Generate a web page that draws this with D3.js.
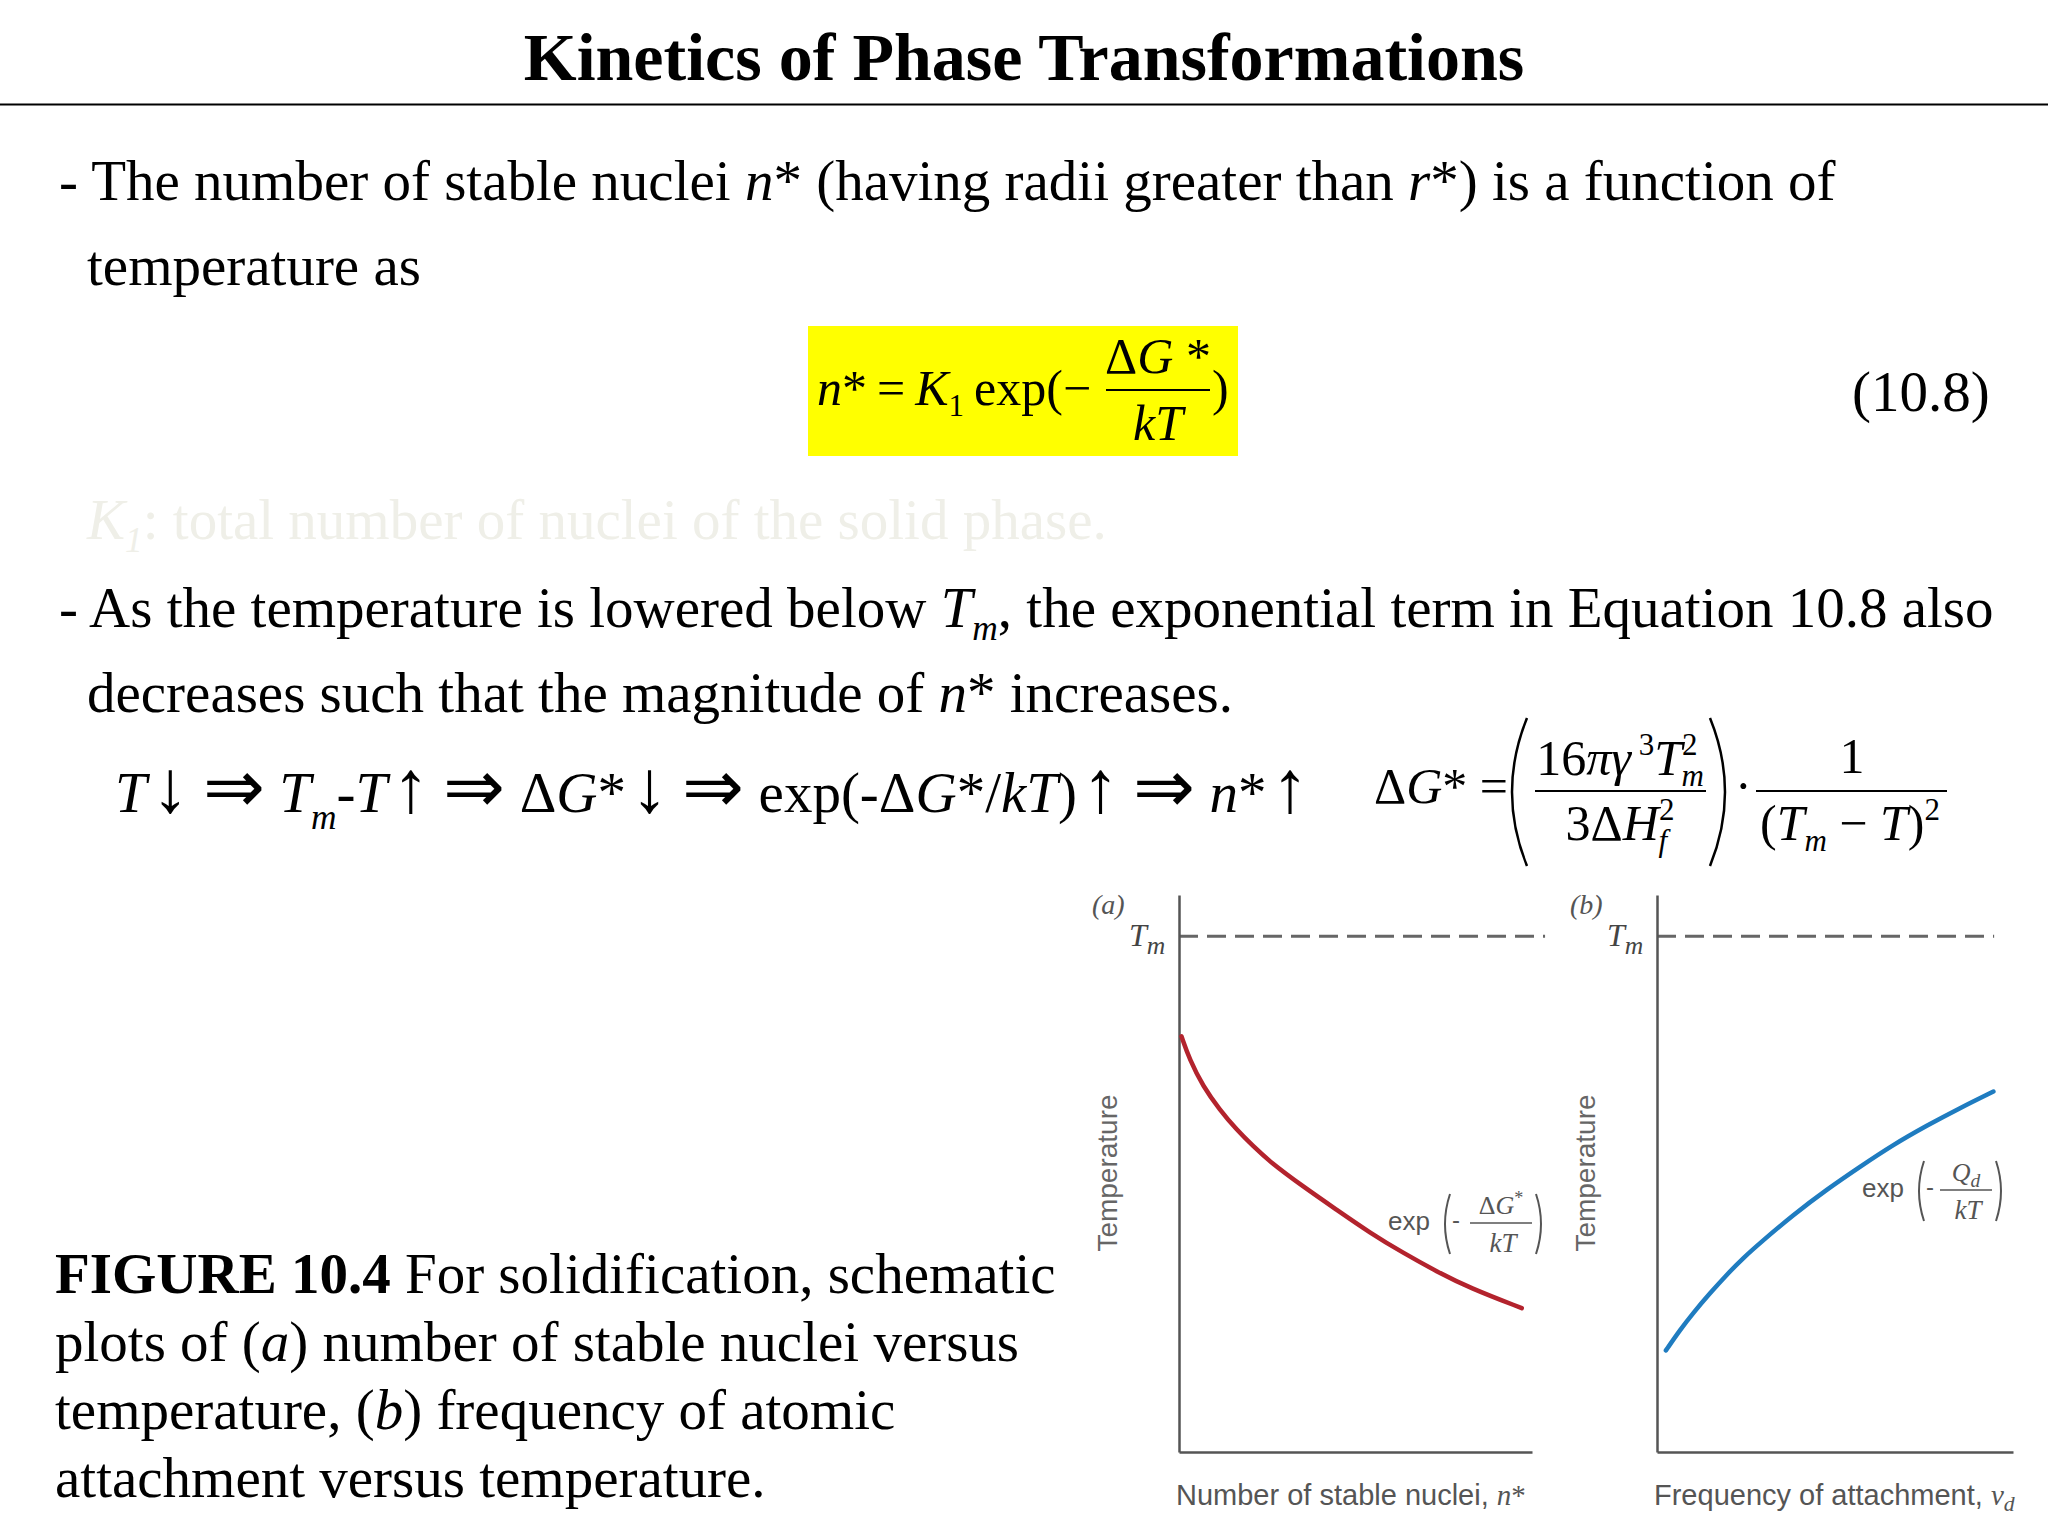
<!DOCTYPE html>
<html>
<head>
<meta charset="utf-8">
<script src="https://cdn.jsdelivr.net/npm/d3@7"></script>
<style>
  body { margin: 0; background: #fff; }
  svg { display: block; }
  text { white-space: pre; }
  .serif { font-family: "Liberation Serif", "Times New Roman", serif; }
  .sans { font-family: "Liberation Sans", Arial, sans-serif; }
</style>
</head>
<body>
<script>
(function(){

    // curve (a): number of stable nuclei n* (0..1) against temperature (Tm = 1)
    var nucleiN = [0.007, 0.030, 0.068, 0.115, 0.163, 0.210, 0.257, 0.351, 0.446, 0.541, 0.635, 0.730, 0.824, 0.971];
    var nucleiT = [0.806, 0.761, 0.709, 0.664, 0.625, 0.593, 0.563, 0.515, 0.470, 0.425, 0.386, 0.350, 0.318, 0.279];

    // curve (b): frequency of attachment against temperature
    var freqV = [0.025, 0.065, 0.102, 0.149, 0.196, 0.242, 0.289, 0.383, 0.477, 0.570, 0.664, 0.758, 0.851, 0.945];
    var freqT = [0.197, 0.237, 0.270, 0.308, 0.344, 0.376, 0.405, 0.460, 0.509, 0.553, 0.596, 0.633, 0.667, 0.699];

    // melting temperature and top of the temperature axis
    var meltT = 1;
    var tempMax = 1.08;

    var width = 2048, height = 1536;

    var svg = d3.select("body")
        .append("svg")
        .attr("width", width)
        .attr("height", height);

    //helper: text made of pieces (italic, bold, sub, sup)
    function rich(parent, x, y, size, parts, cls){
        var t = parent.append("text")
            .attr("class", cls || "serif")
            .attr("x", x)
            .attr("y", y)
            .attr("font-size", size);
        var shift = 0;
        parts.forEach(function(p){
            var s = (typeof p === "string") ? {t: p} : p;
            var scale = s.scale || 0.62;
            var fs = (s.sub || s.sup) ? size * scale : size * (s.big || 1);
            var want = s.sub ? size * (s.low || 0.22) : (s.sup ? -size * 0.4 : 0);
            var ts = t.append("tspan").text(s.t).attr("dy", want - shift);
            shift = want;
            if (fs !== size) ts.attr("font-size", fs);
            if (s.dx) ts.attr("dx", s.dx);
            if (s.i) ts.attr("font-style", "italic");
            if (s.b) ts.attr("font-weight", "bold");
            if (s.f) ts.attr("class", s.f);
        });
        return t;
    }

    // tall bracket drawn as a curve
    function paren(parent, x, y0, y1, bulge, color, sw){
        parent.append("path")
            .attr("d", "M" + x + "," + y0 + "Q" + (x + bulge) + "," + ((y0 + y1) / 2) + " " + x + "," + y1)
            .attr("fill", "none")
            .attr("stroke", color)
            .attr("stroke-width", sw);
    }

    //title and rule
    svg.append("text")
        .attr("class", "serif")
        .attr("x", width / 2)
        .attr("y", 80)
        .attr("text-anchor", "middle")
        .attr("font-size", 68)
        .attr("font-weight", "bold")
        .text("Kinetics of Phase Transformations");

    svg.append("line")
        .attr("x1", 0).attr("x2", width)
        .attr("y1", 104.5).attr("y2", 104.5)
        .attr("stroke", "#000")
        .attr("stroke-width", 2);

    var body = 57;

    rich(svg, 59, 200, body, ["- The number of stable nuclei ", {t: "n", i: 1}, "* (having radii greater than ", {t: "r", i: 1}, "*) is a function of"]);
    rich(svg, 87, 285, body, ["temperature as"]);

    //highlighted equation 10.8
    svg.append("rect")
        .attr("x", 808).attr("y", 326)
        .attr("width", 430).attr("height", 130)
        .attr("fill", "#ffff00");

    rich(svg, 817, 405, 50, [{t: "n", i: 1}, "*\u2009=\u2009", {t: "K", i: 1}, {t: "1", sub: 1}, "\u2009exp(\u2212"]);
    rich(svg, 1158, 373, 50, ["\u0394", {t: "G", i: 1}, " *"]).attr("text-anchor", "middle");
    svg.append("line")
        .attr("x1", 1106).attr("x2", 1210)
        .attr("y1", 390).attr("y2", 390)
        .attr("stroke", "#000").attr("stroke-width", 2);
    rich(svg, 1158, 440, 50, [{t: "kT", i: 1}]).attr("text-anchor", "middle");
    rich(svg, 1212, 405, 50, [")"]);

    rich(svg, 1852, 411, body, ["(10.8)"]);

    rich(svg, 87, 539, body, [{t: "K", i: 1}, {t: "1", i: 1, sub: 1}, ": total number of nuclei of the solid phase."])
        .attr("fill", "#efefe8");

    rich(svg, 59, 627, body, ["- As the temperature is lowered below ", {t: "T", i: 1}, {t: "m", i: 1, sub: 1}, ", the exponential term in Equation 10.8 also"]);
    rich(svg, 87, 712, body, ["decreases such that the magnitude of ", {t: "n", i: 1}, "* increases."]);

    //chain of arrows
    var dn = {t: "\u2193", big: 1.3, dx: 5}, up = {t: "\u2191", big: 1.3, dx: 5}, imp = {t: "\u21D2", big: 1.3};
    rich(svg, 115, 812, body, [
        {t: "T", i: 1}, dn, " ", imp, " ", {t: "T", i: 1}, {t: "m", i: 1, sub: 1, low: 0.3}, "-", {t: "T", i: 1},
        up, " ", imp, " \u0394", {t: "G", i: 1}, "*", dn, " ", imp, " exp(-\u0394", {t: "G", i: 1}, "*/", {t: "kT", i: 1},
        ")", up, " ", imp, " ", {t: "n", i: 1}, "*", up
    ]);

    //delta G* expression
    var fs = 50;
    rich(svg, 1374, 803, fs, ["\u0394", {t: "G", i: 1}, "* ="]);
    paren(svg, 1527, 718, 866, -30, "#000", 2.5);
    rich(svg, 1620, 775, fs, ["16", {t: "\u03C0\u03B3", i: 1}, {t: " 3", sup: 1}, {t: "T", i: 1}, {t: "2", sup: 1}, {t: "m", i: 1, sub: 1, dx: -16}])
        .attr("text-anchor", "middle");
    svg.append("line")
        .attr("x1", 1535).attr("x2", 1706)
        .attr("y1", 791).attr("y2", 791)
        .attr("stroke", "#000").attr("stroke-width", 2);
    rich(svg, 1620, 840, fs, ["3\u0394", {t: "H", i: 1}, {t: "2", sup: 1}, {t: "f", i: 1, sub: 1, dx: -16}])
        .attr("text-anchor", "middle");
    paren(svg, 1710, 718, 866, 30, "#000", 2.5);
    rich(svg, 1735, 803, fs, ["\u00B7"]);
    rich(svg, 1852, 773, fs, ["1"]).attr("text-anchor", "middle");
    svg.append("line")
        .attr("x1", 1756).attr("x2", 1947)
        .attr("y1", 791).attr("y2", 791)
        .attr("stroke", "#000").attr("stroke-width", 2);
    rich(svg, 1850, 840, fs, ["(", {t: "T", i: 1}, {t: "m", i: 1, sub: 1}, " \u2212 ", {t: "T", i: 1}, ")", {t: "2", sup: 1}])
        .attr("text-anchor", "middle");

    //figure caption
    rich(svg, 55, 1293, body, [{t: "FIGURE 10.4", b: 1}, " For solidification, schematic"]);
    rich(svg, 55, 1361, body, ["plots of (", {t: "a", i: 1}, ") number of stable nuclei versus"]);
    rich(svg, 55, 1429, body, ["temperature, (", {t: "b", i: 1}, ") frequency of atomic"]);
    rich(svg, 55, 1497, body, ["attachment versus temperature."]);

    // the two schematic panels
    var yScale = d3.scaleLinear()
        .domain([0, tempMax])
        .range([1452, 895]);

    var panels = [
        {tag: "(a)", xs: nucleiN, ys: nucleiT, color: "#b3232d", left: 1179, right: 1532, dashTo: 1.037,
         xlabel: ["Number of stable nuclei, ", {t: "n", i: 1, f: "serif"}, {t: "*", f: "serif"}],
         ann: {x: 1388, y: 1230, num: ["\u0394", {t: "G", i: 1}, {t: "*", sup: 1, scale: 0.7}], bar0: 82, bar1: 144}},
        {tag: "(b)", xs: freqV, ys: freqT, color: "#1f7cc0", left: 1657, right: 2013, dashTo: 0.947,
         xlabel: ["Frequency of attachment, ", {t: "\u03BD", i: 1, f: "serif"}, {t: "d", i: 1, sub: 1, f: "serif", scale: 0.75}],
         ann: {x: 1862, y: 1197, num: [{t: "Q", i: 1}, {t: "d", i: 1, sub: 1, scale: 0.75}], bar0: 78, bar1: 130}}
    ];

    panels.forEach(function(p){
        var g = svg.append("g");
        var xScale = d3.scaleLinear()
            .domain([0, 1])
            .range([p.left, p.right]);

        //Tm dashed level
        g.append("line")
            .attr("x1", xScale(0)).attr("x2", xScale(p.dashTo))
            .attr("y1", yScale(meltT)).attr("y2", yScale(meltT))
            .attr("stroke", "#666")
            .attr("stroke-width", 3)
            .attr("stroke-dasharray", "19,9");

        var yAxis = d3.axisLeft(yScale).tickValues([]).tickSizeOuter(0);
        var xAxis = d3.axisBottom(xScale).tickValues([]).tickSizeOuter(0);

        g.append("g")
            .attr("class", "axis")
            .attr("transform", "translate(" + p.left + ",0)")
            .call(yAxis);
        g.append("g")
            .attr("class", "axis")
            .attr("transform", "translate(0," + yScale(0) + ")")
            .call(xAxis);
        g.selectAll(".axis path")
            .attr("stroke", "#555")
            .attr("stroke-width", 2.5);

        var line = d3.line()
            .x(function(d){ return xScale(d[0]); })
            .y(function(d){ return yScale(d[1]); })
            .curve(d3.curveBasis);

        g.append("path")
            .datum(p.xs.map(function(v, i){ return [v, p.ys[i]]; }))
            .attr("d", line)
            .attr("fill", "none")
            .attr("stroke", p.color)
            .attr("stroke-width", 4.5)
            .attr("stroke-linecap", "round");

        //panel labels
        rich(g, p.left - 87, 914, 28, [{t: p.tag, i: 1}]).attr("fill", "#555");
        rich(g, p.left - 50, 946, 32, [{t: "T", i: 1}, {t: "m", i: 1, sub: 1, scale: 0.8, low: 0.25}]).attr("fill", "#444");

        g.append("text")
            .attr("class", "sans")
            .attr("transform", "translate(" + (p.left - 62) + ",1173) rotate(-90)")
            .attr("text-anchor", "middle")
            .attr("font-size", 28)
            .attr("fill", "#666")
            .text("Temperature");

        rich(g, p.left - 3, 1505, 29, p.xlabel, "sans").attr("fill", "#555");

        //exp(-x/kT) annotation
        var a = g.append("g").attr("transform", "translate(" + p.ann.x + "," + p.ann.y + ")");
        rich(a, 0, 0, 26, ["exp"], "sans").attr("fill", "#555");
        paren(a, 62, -36, 24, -10, "#555", 2);
        rich(a, 64, -2, 24, ["-"], "sans").attr("fill", "#555");
        rich(a, (p.ann.bar0 + p.ann.bar1) / 2, -16, 26, p.ann.num).attr("text-anchor", "middle").attr("fill", "#555");
        a.append("line")
            .attr("x1", p.ann.bar0).attr("x2", p.ann.bar1)
            .attr("y1", -7).attr("y2", -7)
            .attr("stroke", "#555").attr("stroke-width", 1.5);
        rich(a, (p.ann.bar0 + p.ann.bar1) / 2 + 2, 22, 27, [{t: "kT", i: 1}]).attr("text-anchor", "middle").attr("fill", "#555");
        paren(a, p.ann.bar1 + 4, -36, 24, 10, "#555", 2);
    });

})();
</script>
</body>
</html>
